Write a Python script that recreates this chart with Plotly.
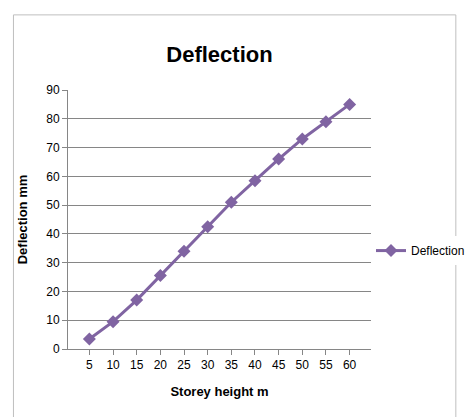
import plotly.graph_objects as go

heights = [5, 10, 15, 20, 25, 30, 35, 40, 45, 50, 55, 60]
deflection = [3.5, 9.5, 17, 25.5, 34, 42.5, 51, 58.5, 66, 73, 79, 85]
xticks = [str(h) for h in heights]

fnt = "Liberation Sans Narrow, Arial Narrow, Liberation Sans, sans-serif"
fig = go.Figure(go.Scatter(
    x=xticks, y=deflection, mode="lines+markers", name="Deflection",
    line=dict(color="#8064A2", width=3),
    marker=dict(symbol="diamond", size=10, color="#8064A2")))
fig.update_layout(
    width=474, height=417, paper_bgcolor="white", plot_bgcolor="white",
    showlegend=True,
    margin=dict(l=60, r=94, t=82, b=76),
    title=dict(text="<b>Deflection</b>", x=0.5, xref="paper", y=0.89, yanchor="middle",
               font=dict(family=fnt, size=22, color="black")),
    font=dict(family=fnt, size=12, color="black"),
    legend=dict(x=1.0, y=0.38, xanchor="left", yanchor="middle", font=dict(size=12)),
    xaxis=dict(type="category", showline=True, linecolor="#868686", ticks="outside",
               tickcolor="#868686", title=dict(text="<b>Storey height m</b>", font=dict(size=13))),
    yaxis=dict(range=[0, 90], dtick=10, showgrid=True, gridcolor="#868686", showline=True,
               linecolor="#868686", ticks="outside", tickcolor="#868686", zeroline=False,
               title=dict(text="<b>Deflection mm</b>", font=dict(size=13))),
    shapes=[dict(type="rect", xref="paper", yref="paper", x0=-0.18, x1=1.28, y0=-0.30, y1=1.29,
                 line=dict(color="#BFBFBF", width=1))],
)
fig.write_html("out.html")
